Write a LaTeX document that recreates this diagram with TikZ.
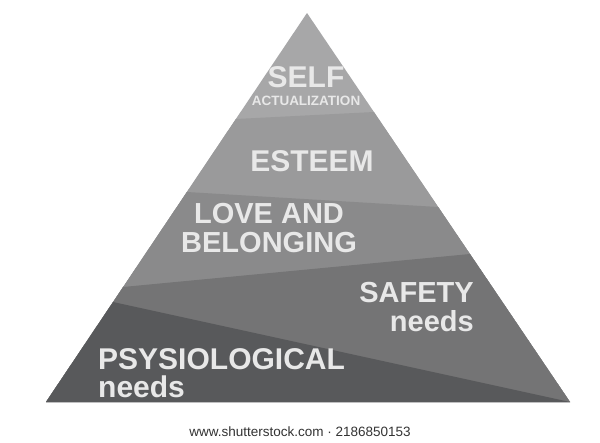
\documentclass[tikz,border=0pt]{standalone}
\usepackage{fontspec}
\setmainfont{Liberation Sans}
\usetikzlibrary{positioning}
\definecolor{lvA}{HTML}{A7A7A8}
\definecolor{lvB}{HTML}{9A9A9B}
\definecolor{lvC}{HTML}{8A8A8B}
\definecolor{lvD}{HTML}{747475}
\definecolor{lvE}{HTML}{58595B}
\definecolor{txt}{HTML}{E8E8E8}
\begin{document}
\begin{tikzpicture}[x=1pt,y=-1pt, line join=round,
  lbl/.style={text=txt, font=\bfseries, inner sep=0pt, align=center}]
  \useasboundingbox[fill=white] (0,0) rectangle (600,442);
  % ===== corners =====
  \coordinate (top) at (307,13);
  \coordinate (bl) at (46,402);
  \coordinate (br) at (570,402);
  \begin{scope}
    \clip (top) -- (bl) -- (br) -- cycle;
    \fill[lvA] (0,0) rectangle (600,442);
    \fill[lvB] (0,119) -- (236,119) -- (374,112) -- (600,112) -- (600,442) -- (0,442) -- cycle;
    \fill[lvC] (0,192) -- (187,192) -- (438,207) -- (600,207) -- (600,442) -- (0,442) -- cycle;
    \fill[lvD] (0,287) -- (123,287) -- (470,254) -- (600,254) -- (600,442) -- (0,442) -- cycle;
    \fill[lvE] (0,302) -- (113,302) -- (570,402) -- (600,442) -- (0,442) -- cycle;
  \end{scope}
  % ===== labels =====
  \node[lbl, font=\bfseries\fontsize{30}{30}\selectfont] (self) at (306,77) {SELF};
  \node[lbl, font=\bfseries\fontsize{13.5}{14}\selectfont] (act) at (306,101) {ACTUALIZATION};
  \node[lbl, font=\bfseries\fontsize{30}{30}\selectfont] (est) at (312,161) {ESTEEM};
  \node[lbl, font=\bfseries\fontsize{29}{29}\selectfont] (love) at (269,228) {LOVE AND\\BELONGING};
  \node[lbl, font=\bfseries\fontsize{29}{28.5}\selectfont, align=right, anchor=east] (safe) at (474,307) {SAFETY\\needs};
  \node[lbl, font=\bfseries\fontsize{30}{28.5}\selectfont, align=left, anchor=west] (phys) at (98,373) {PSYSIOLOGICAL\\needs};
  \node[font=\fontsize{13.5}{14}\selectfont, text=black!80] (cap) at (300,432) {www.shutterstock.com · 2186850153};
\end{tikzpicture}
\end{document}
